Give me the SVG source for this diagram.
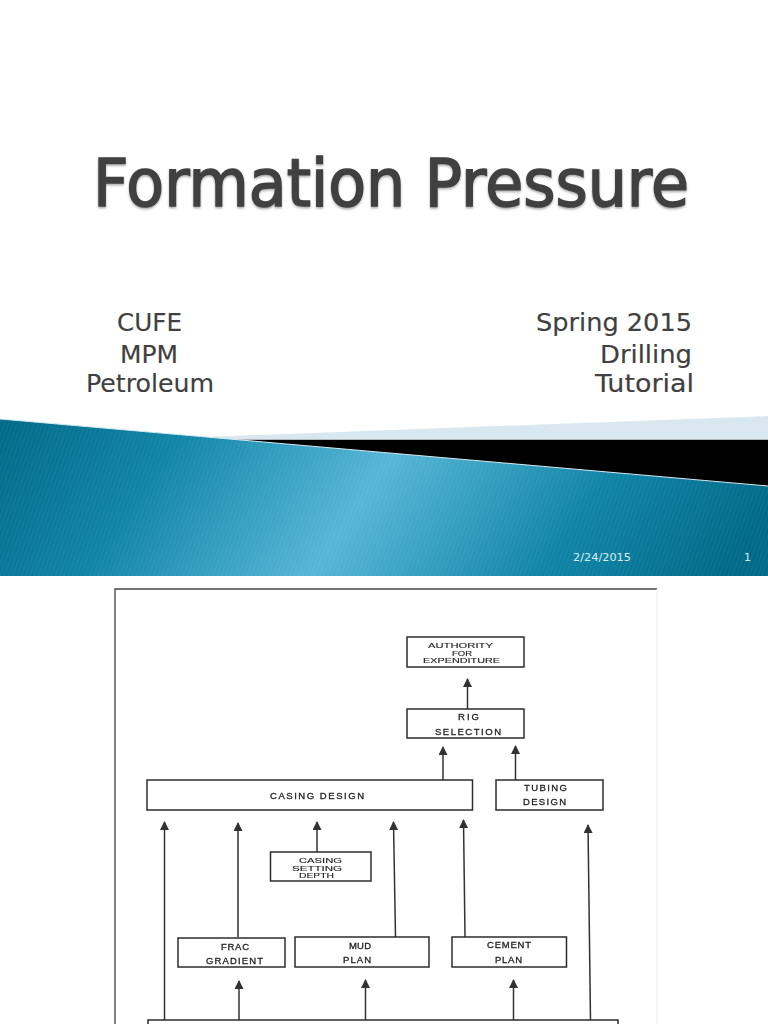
<svg xmlns="http://www.w3.org/2000/svg" width="768" height="1024" viewBox="0 0 768 1024">
<style>
.t{font-family:"DejaVu Sans",sans-serif;fill:#404040}
.sub{font-size:24px;stroke:#404040;stroke-width:.15}
.d{font-family:"Liberation Sans",sans-serif;font-size:9.500px;fill:#222;stroke:#222;stroke-width:.3}
.tight{font-size:6.800px;stroke-width:.12}
.box{fill:#fff;stroke:#2c2c2c;stroke-width:1.5}
.c{fill:none;stroke:#333;stroke-width:1.5;marker-end:url(#a)}
</style>
<defs>
<linearGradient id="band" gradientUnits="userSpaceOnUse" x1="73" y1="320" x2="637" y2="700">
<stop offset="0" stop-color="#006a88"/><stop offset="0.22" stop-color="#0f84a6"/><stop offset="0.5" stop-color="#56b6d7"/><stop offset="0.78" stop-color="#0f84a6"/><stop offset="1" stop-color="#006a88"/>
</linearGradient>
<pattern id="stripes" patternUnits="userSpaceOnUse" width="4" height="4" patternTransform="rotate(20)"><rect width="2" height="4" fill="#fff" opacity=".035"/></pattern>
<marker id="a" markerUnits="userSpaceOnUse" markerWidth="10" markerHeight="10" refX="8" refY="4.500" orient="auto"><path d="M0 0L9 4.500L0 9Z" fill="#333"/></marker>
<filter id="s" x="-5%" y="-20%" width="110%" height="140%"><feDropShadow dx="0" dy="1.500" stdDeviation="1.200" flood-color="#000" flood-opacity=".35"/></filter>
<filter id="b"><feGaussianBlur stdDeviation=".4"/></filter>
</defs>
<rect width="768" height="1024" fill="#fff"/>
<g id="slide-graphics">
<polygon points="150,439 768,416 768,439" fill="#d9e8f0"/>
<rect x="235" y="439" width="533" height="1.500" fill="#b0b8bc"/>
<polygon points="235,440 768,440 768,487" fill="#000"/>
<polygon points="0,419 768,486 768,576 0,576" fill="url(#band)"/>
<polygon points="0,419 768,486 768,576 0,576" fill="url(#stripes)"/>
<line x1="0" y1="419" x2="768" y2="486" stroke="#d5eaf2" stroke-width="1"/>
</g>
<g id="title"><text class="t" x="93" y="206" font-size="66" textLength="596" lengthAdjust="spacingAndGlyphs" stroke="#404040" stroke-width="1.600" filter="url(#s)">Formation Pressure</text></g>
<g id="subtitle-left">
<text class="t sub" x="117" y="331" textLength="65" lengthAdjust="spacingAndGlyphs">CUFE</text>
<text class="t sub" x="120" y="363" textLength="58" lengthAdjust="spacingAndGlyphs">MPM</text>
<text class="t sub" x="86" y="392" textLength="128" lengthAdjust="spacingAndGlyphs">Petroleum</text>
</g>
<g id="subtitle-right">
<text class="t sub" x="536" y="331" textLength="156" lengthAdjust="spacingAndGlyphs">Spring 2015</text>
<text class="t sub" x="600" y="363" textLength="92" lengthAdjust="spacingAndGlyphs">Drilling</text>
<text class="t sub" x="595" y="392" textLength="99" lengthAdjust="spacingAndGlyphs">Tutorial</text>
</g>
<g id="footer">
<text x="573" y="561" font-family="'DejaVu Sans',sans-serif" font-size="11" fill="#d8edf4" textLength="58" lengthAdjust="spacingAndGlyphs">2/24/2015</text>
<text x="744" y="561" font-family="'DejaVu Sans',sans-serif" font-size="11" fill="#d8edf4">1</text>
</g>
<g id="frame" filter="url(#b)"><path d="M115 1024V589H657" fill="none" stroke="#444" stroke-width="1.300"/><line x1="657" y1="589" x2="657" y2="1024" stroke="#eee"/></g>
<g id="connectors" filter="url(#b)">
<path class="c" d="M467.500 709V679"/>
<path class="c" d="M443 780V747"/>
<path class="c" d="M515.500 780V746"/>
<path class="c" d="M164.500 1020V822"/>
<path class="c" d="M238 937V823"/>
<path class="c" d="M317 852V822"/>
<path class="c" d="M395.500 937L393.500 822"/>
<path class="c" d="M465 937L463.500 820"/>
<path class="c" d="M590.500 1020L588 825"/>
<path class="c" d="M239 1020V981"/>
<path class="c" d="M365.500 1020V980"/>
<path class="c" d="M513.500 1020V980"/>
</g>
<g id="authority" filter="url(#b)"><rect class="box" x="407" y="637" width="117" height="30"/>
<text class="d tight" x="428" y="648" textLength="65" lengthAdjust="spacingAndGlyphs">AUTHORITY</text>
<text class="d tight" x="452" y="655.500" textLength="20" lengthAdjust="spacingAndGlyphs">FOR</text>
<text class="d tight" x="423" y="663" textLength="77" lengthAdjust="spacingAndGlyphs">EXPENDITURE</text></g>
<g id="rig" filter="url(#b)"><rect class="box" x="407" y="709" width="117" height="29"/>
<text class="d" x="458" y="720" textLength="21" lengthAdjust="spacing">RIG</text>
<text class="d" x="435" y="735" textLength="66" lengthAdjust="spacing">SELECTION</text></g>
<g id="casing-design" filter="url(#b)"><rect class="box" x="147" y="780" width="325.500" height="30"/>
<text class="d" x="270" y="799" textLength="94" lengthAdjust="spacing">CASING DESIGN</text></g>
<g id="tubing" filter="url(#b)"><rect class="box" x="496" y="780" width="107" height="30"/>
<text class="d" x="524" y="790.500" textLength="43" lengthAdjust="spacing">TUBING</text>
<text class="d" x="523" y="805" textLength="43" lengthAdjust="spacing">DESIGN</text></g>
<g id="setting-depth" filter="url(#b)"><rect class="box" x="270.500" y="852" width="100.500" height="29"/>
<text class="d tight" x="299" y="863" textLength="43" lengthAdjust="spacingAndGlyphs">CASING</text>
<text class="d tight" x="292" y="870.500" textLength="50" lengthAdjust="spacingAndGlyphs">SETTING</text>
<text class="d tight" x="299" y="878" textLength="35" lengthAdjust="spacingAndGlyphs">DEPTH</text></g>
<g id="frac" filter="url(#b)"><rect class="box" x="178" y="938" width="107" height="29"/>
<text class="d" x="221" y="950" textLength="28" lengthAdjust="spacing">FRAC</text>
<text class="d" x="206" y="964" textLength="57" lengthAdjust="spacing">GRADIENT</text></g>
<g id="mud" filter="url(#b)"><rect class="box" x="295" y="937" width="134" height="30"/>
<text class="d" x="349" y="949" textLength="22" lengthAdjust="spacing">MUD</text>
<text class="d" x="343" y="963" textLength="28" lengthAdjust="spacing">PLAN</text></g>
<g id="cement" filter="url(#b)"><rect class="box" x="452" y="937" width="114.500" height="30"/>
<text class="d" x="487" y="948" textLength="44" lengthAdjust="spacing">CEMENT</text>
<text class="d" x="495" y="963" textLength="27" lengthAdjust="spacing">PLAN</text></g>
<g id="base" filter="url(#b)"><rect class="box" x="148" y="1020" width="470" height="30"/></g>
</svg>
